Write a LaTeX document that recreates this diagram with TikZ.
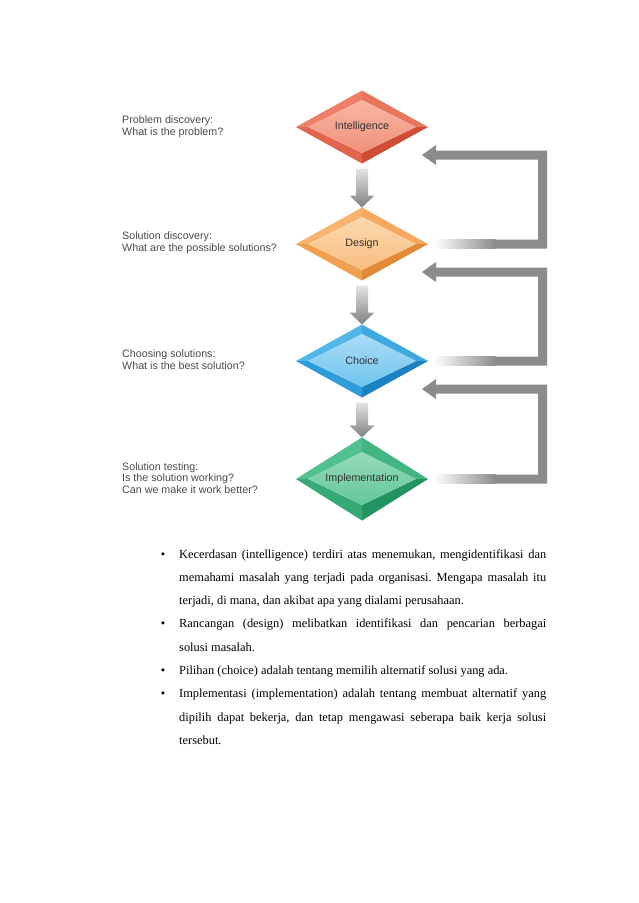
\documentclass[tikz,border=0pt]{standalone}
\usepackage{fontspec}
\setmainfont{Liberation Serif}
\newfontfamily\arialf{Liberation Sans}
\usetikzlibrary{calc,shapes.geometric,backgrounds}
\frenchspacing

\definecolor{labgray}{HTML}{333333}
\definecolor{sidegray}{HTML}{4A4A4A}
\definecolor{loopgray}{HTML}{8A8B8D}
\definecolor{arrlight}{HTML}{E4E4E4}
\definecolor{arrdark}{HTML}{7F8082}

\definecolor{iTL}{HTML}{EE8068}\definecolor{iTR}{HTML}{E9755C}
\definecolor{iBL}{HTML}{E0654C}\definecolor{iBR}{HTML}{CF4C36}
\definecolor{iIT}{HTML}{F7B6A3}\definecolor{iIB}{HTML}{F0917A}

\definecolor{dTL}{HTML}{F8B46E}\definecolor{dTR}{HTML}{F6A95E}
\definecolor{dBL}{HTML}{F0A050}\definecolor{dBR}{HTML}{E28A36}
\definecolor{dIT}{HTML}{FCD9AE}\definecolor{dIB}{HTML}{F8BE80}

\definecolor{cTL}{HTML}{52B6E7}\definecolor{cTR}{HTML}{3EA9E0}
\definecolor{cBL}{HTML}{2D9CD8}\definecolor{cBR}{HTML}{1A82C0}
\definecolor{cIT}{HTML}{ABDDF6}\definecolor{cIB}{HTML}{6EC4EE}

\definecolor{mTL}{HTML}{52C190}\definecolor{mTR}{HTML}{42B581}
\definecolor{mBL}{HTML}{36AA76}\definecolor{mBR}{HTML}{23935F}
\definecolor{mIT}{HTML}{96DAB9}\definecolor{mIB}{HTML}{62C79C}

\tikzset{
  dmd/.style={diamond, minimum width=132pt, minimum height=73pt, inner sep=0pt,
    outer sep=0pt, font=\arialf\fontsize{10.7}{12}\selectfont, text=labgray},
  side/.style={anchor=west, align=left, inner sep=0pt,
    font=\arialf\fontsize{10.7}{11.8}\selectfont, text=sidegray},
  bodytext/.style={anchor=base west, inner sep=0pt},
  bul/.style={anchor=base, inner sep=0pt, font=\fontsize{12.4}{23.3}\selectfont}
}

\newcommand\bevelfaces[7]{%
  \begin{scope}[on background layer]
    \coordinate (#1-in) at ($(#1.center)+(0,-27)$);
    \coordinate (#1-is) at ($(#1.center)+(0,26)$);
    \coordinate (#1-iw) at ($(#1.center)+(-54,0)$);
    \coordinate (#1-ie) at ($(#1.center)+(54,0)$);
    \fill[#2] (#1.west) -- (#1.north) -- (#1-in) -- (#1-iw) -- cycle;
    \fill[#3] (#1.north) -- (#1.east) -- (#1-ie) -- (#1-in) -- cycle;
    \fill[#5] (#1.east) -- (#1.south) -- (#1-is) -- (#1-ie) -- cycle;
    \fill[#4] (#1.south) -- (#1.west) -- (#1-iw) -- (#1-is) -- cycle;
    \shade[top color=#6, bottom color=#7] (#1-in) -- (#1-ie) -- (#1-is) -- (#1-iw) -- cycle;
  \end{scope}}

\newcommand\flowdown[2]{%
  \shade[top color=arrlight, bottom color=arrdark]
    ($(#1.south)+(-6,5)$) -- ($(#1.south)+(6,5)$) -- ($(#2.north)+(6,-12)$)
    -- ($(#2.north)+(12.5,-12)$) -- (#2.north) -- ($(#2.north)+(-12.5,-12)$)
    -- ($(#2.north)+(-6,-12)$) -- cycle;}

\newcommand\feedback[2]{%
  \fill[loopgray]
    ($(#1.center)+(60,28)$) -- ($(#1.center)+(74,18)$) -- ($(#1.center)+(74,23.5)$)
    -- ($(#1.center)+(185,23.5)$) -- ($(#2.center)+(185,4.5)$)
    -- ($(#2.center)+(133,4.5)$) -- ($(#2.center)+(133,-4.5)$)
    -- ($(#2.center)+(176,-4.5)$) -- ($(#1.center)+(176,32.5)$)
    -- ($(#1.center)+(74,32.5)$) -- ($(#1.center)+(74,38)$) -- cycle;
  \shade[left color=white, right color=loopgray]
    ($(#2.center)+(72,-4.5)$) rectangle ($(#2.center)+(133.5,4.5)$);}

\begin{document}
\begin{tikzpicture}[x=1pt,y=-1pt]
\useasboundingbox (0,0) rectangle (638,903);

\node[dmd] (int) at (362,127) {Intelligence};
\node[dmd] (des) at (362,244) {Design};
\node[dmd] (cho) at (362,361) {Choice};
\node[dmd] (imp) at (362,479) {Implementation};

\bevelfaces{int}{iTL}{iTR}{iBL}{iBR}{iIT}{iIB}
\bevelfaces{des}{dTL}{dTR}{dBL}{dBR}{dIT}{dIB}
\bevelfaces{cho}{cTL}{cTR}{cBL}{cBR}{cIT}{cIB}
\bevelfaces{imp}{mTL}{mTR}{mBL}{mBR}{mIT}{mIB}

\flowdown{int}{des}
\flowdown{des}{cho}
\flowdown{cho}{imp}

\feedback{int}{des}
\feedback{des}{cho}
\feedback{cho}{imp}

\node[side] (s1) at (122,127) {Problem discovery:\\What is the problem?};
\node[side] (s2) at (122,243) {Solution discovery:\\What are the possible solutions?};
\node[side] (s3) at (122,360) {Choosing solutions:\\What is the best solution?};
\node[side] (s4) at (122,478) {Solution testing:\\Is the solution working?\\Can we make it work better?};

\node[bul] (p1) at (163,558) {\textbullet};
\node[bodytext] (k1) at (179,558) {\parbox[t]{367pt}{\fontsize{12.4}{23.3}\selectfont
Kecerdasan (intelligence) terdiri atas menemukan, mengidentifikasi dan\linebreak
memahami masalah yang terjadi pada organisasi. Mengapa masalah itu\linebreak
terjadi, di mana, dan akibat apa yang dialami perusahaan.}};

\node[bul] (p2) at (163,627.9) {\textbullet};
\node[bodytext] (k2) at (179,627.9) {\parbox[t]{367pt}{\fontsize{12.4}{23.3}\selectfont
Rancangan (design) melibatkan identifikasi dan pencarian berbagai\linebreak
solusi masalah.}};

\node[bul] (p3) at (163,674.5) {\textbullet};
\node[bodytext] (k3) at (179,674.5) {\parbox[t]{367pt}{\fontsize{12.4}{23.3}\selectfont
Pilihan (choice) adalah tentang memilih alternatif solusi yang ada.}};

\node[bul] (p4) at (163,697.8) {\textbullet};
\node[bodytext] (k4) at (179,697.8) {\parbox[t]{367pt}{\fontsize{12.4}{23.3}\selectfont
Implementasi (implementation) adalah tentang membuat alternatif yang\linebreak
dipilih dapat bekerja, dan tetap mengawasi seberapa baik kerja solusi\linebreak
tersebut.}};
\end{tikzpicture}
\end{document}
